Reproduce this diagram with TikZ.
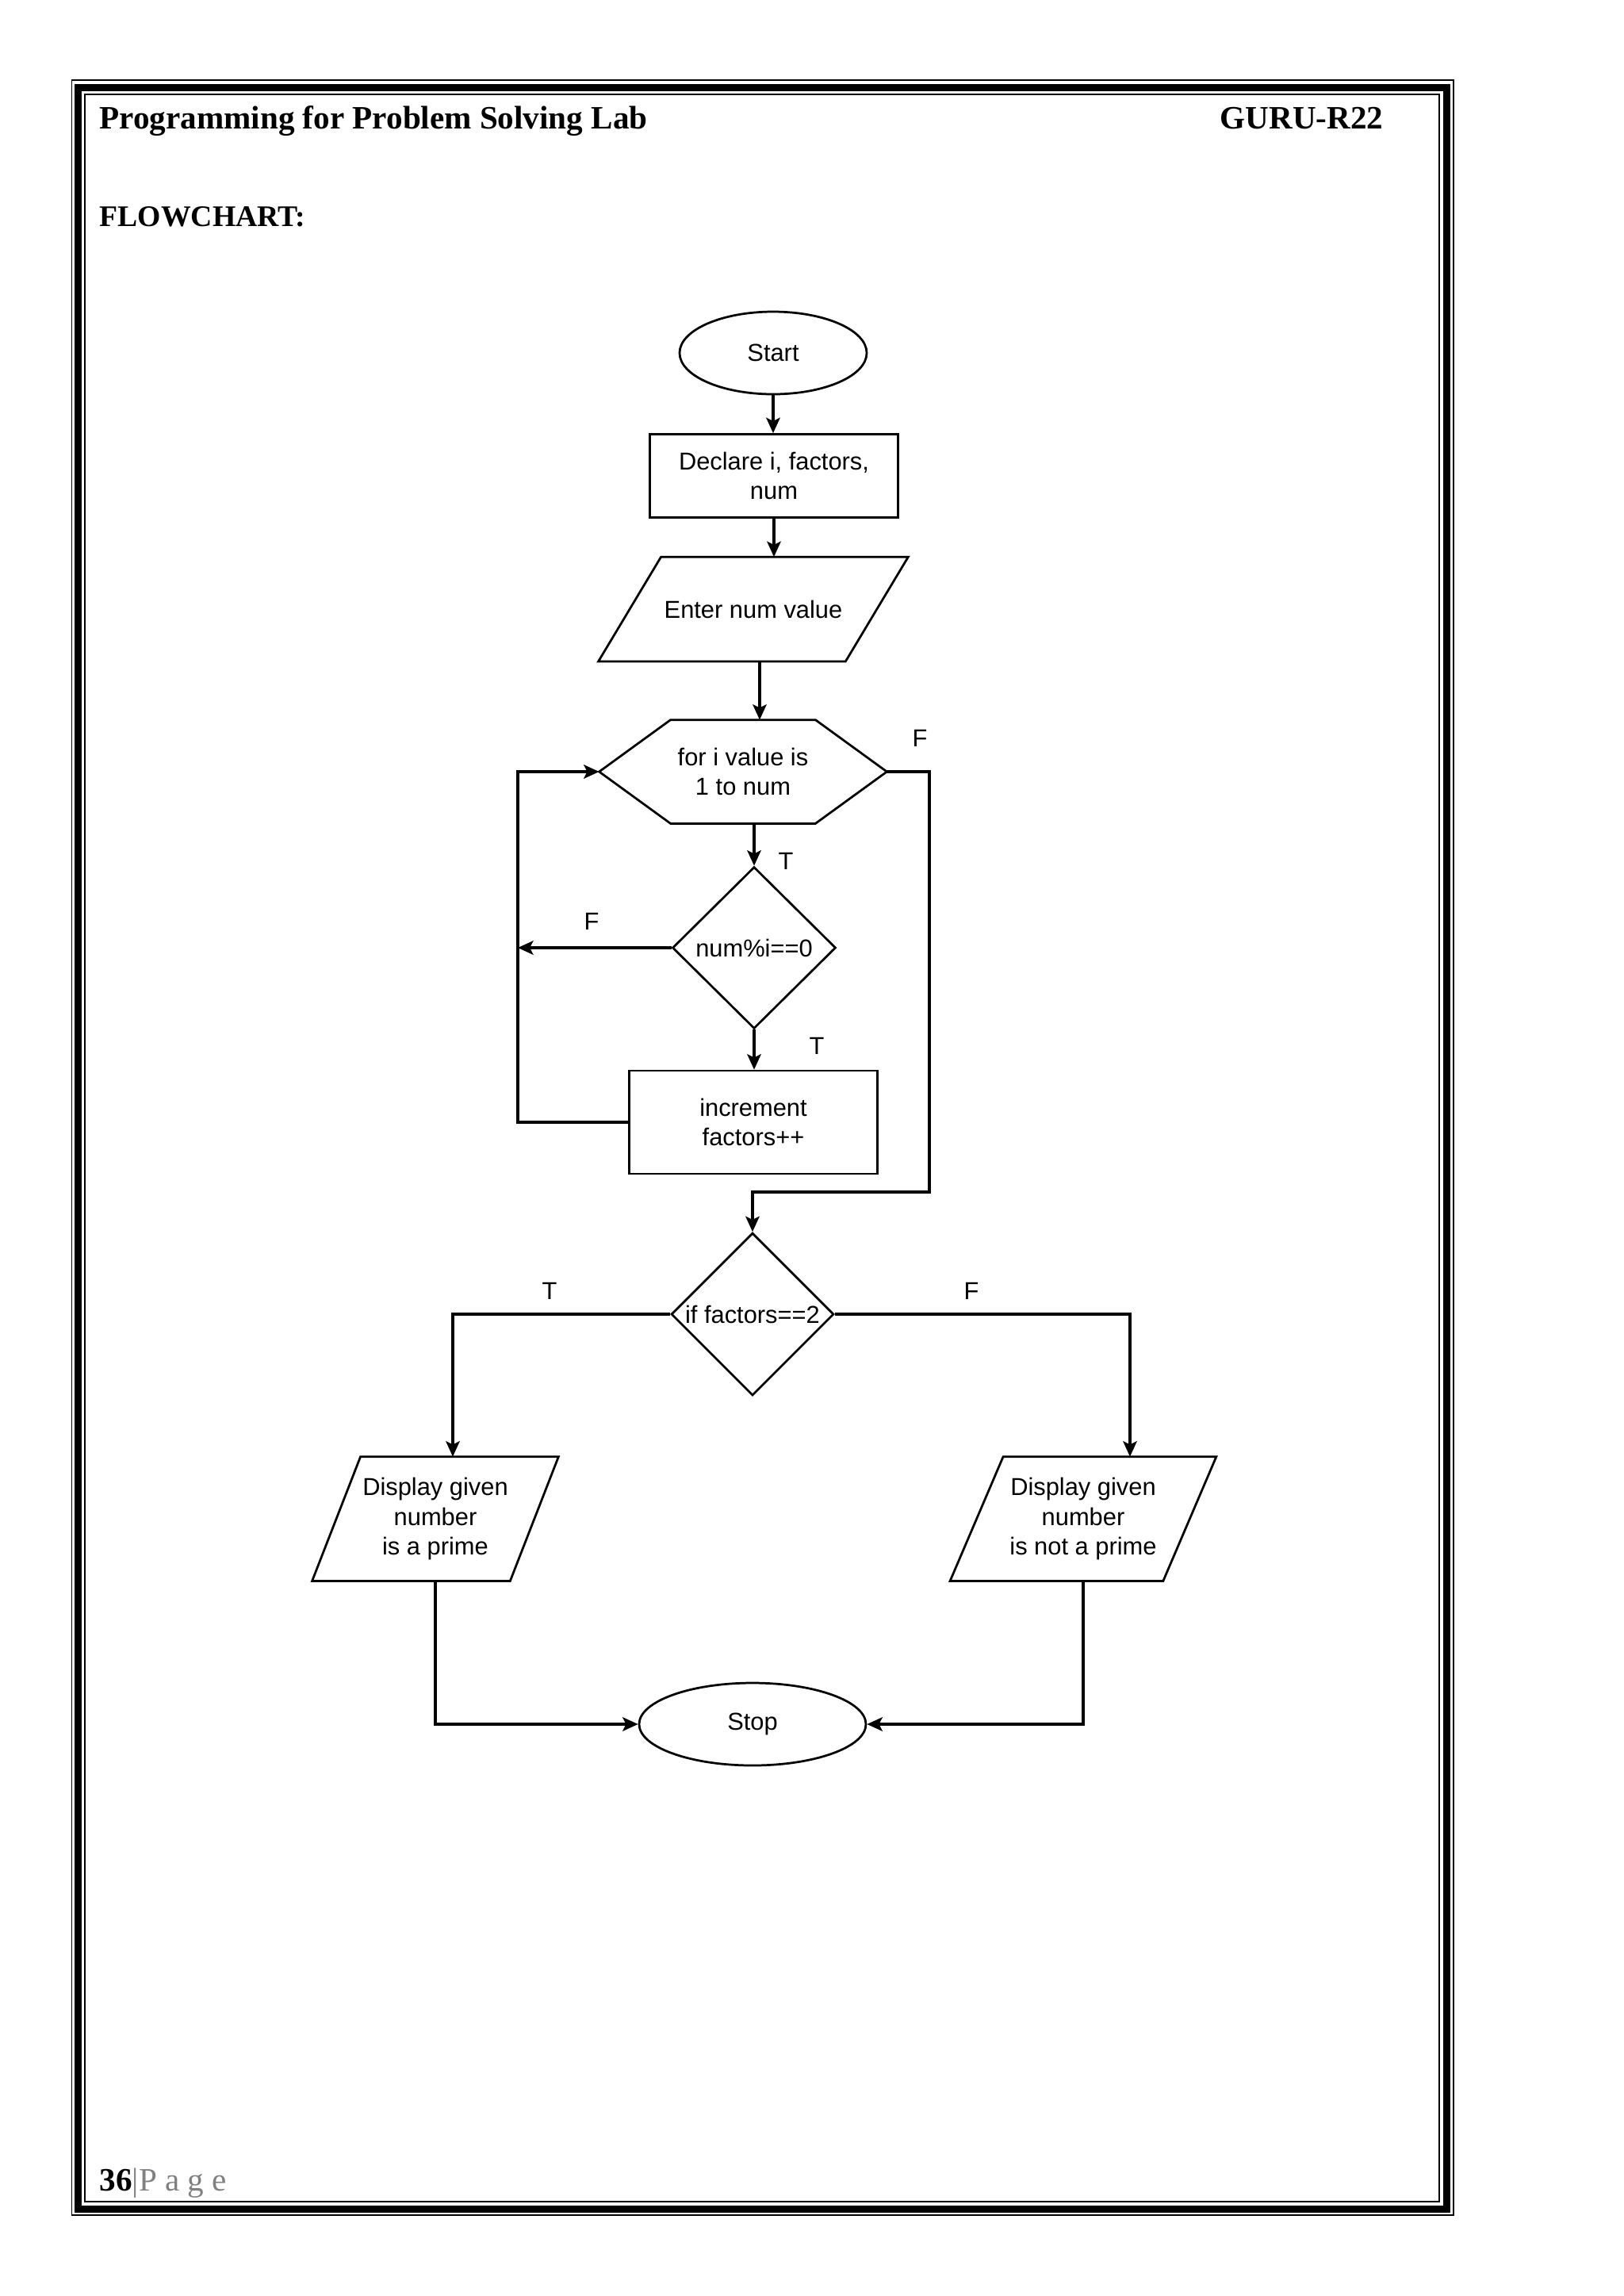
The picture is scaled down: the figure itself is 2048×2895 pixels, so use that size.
\documentclass[tikz,border=0pt]{standalone}
\usepackage{fontspec}
\setmainfont{Liberation Serif}
\newfontfamily\flowfont{Liberation Sans}
\usetikzlibrary{shapes.geometric,arrows.meta}
\newlength{\unitpx}
\setlength{\unitpx}{0.10254mm}
\newcommand\flowsize{\flowfont\fontsize{9pt}{11pt}\selectfont}
\newcommand\headsize{\bfseries\fontsize{12pt}{14pt}\selectfont}
\tikzset{
  base/.style={draw, line width=0.8pt, font=\flowsize, align=center, inner sep=0pt},
  terminal/.style={base, ellipse},
  process/.style={base, rectangle},
  decision/.style={base, diamond},
  hidden/.style={base, draw=none, rectangle},
  outline/.style={line width=0.8pt},
  flow/.style={line width=0.9pt, -{Stealth[length=2mm, width=1.8mm, inset=0.45mm]}},
  branch/.style={font=\flowsize, inner sep=0pt},
  heading/.style={font=\headsize, inner sep=0pt},
  every label/.style={font=\flowsize, inner sep=0pt}
}
\begin{document}
\begin{tikzpicture}[x=0.10254mm, y=-0.10254mm]
  \fill[white] (0,0) rectangle (2048,2895);
  \useasboundingbox (0,0) rectangle (2048,2895);
  % page frame
  \draw[line width=1.5\unitpx] (90.5,101) rectangle (1833,2793);
  \draw[line width=9\unitpx] (98,110) rectangle (1824,2785);
  \draw[line width=1.5\unitpx] (107,119) rectangle (1815,2776);
  % header and footer
  \node[heading, anchor=base west] (title) at (125,162) {Programming for Problem Solving Lab};
  \node[heading, anchor=base east] (code) at (1745,162) {GURU-R22};
  \node[heading, anchor=base west, font=\bfseries\fontsize{11pt}{13pt}\selectfont] (chart) at (125,285) {FLOWCHART:};
  \node[anchor=base west, inner sep=0pt, font=\fontsize{12pt}{14pt}\selectfont] (pageno) at (125,2762)
    {\textbf{36}\textcolor{gray}{|P a g e}};
  % boxes
  \node[terminal, minimum width=236\unitpx, minimum height=104\unitpx] (start) at (975,445) {Start};
  \node[process, minimum width=313\unitpx, minimum height=105\unitpx] (declare) at (976,600) {Declare i, factors,\\num};
  \node[hidden, minimum width=388\unitpx, minimum height=129\unitpx] (enter) at (950,768) {Enter num value};
  \draw[outline] ([xshift=79\unitpx]enter.north west) -- (enter.north east)
    -- ([xshift=-79\unitpx]enter.south east) -- (enter.south west) -- cycle;
  \node[hidden, minimum width=360\unitpx, minimum height=128\unitpx] (loop) at (937,973) {for i value is\\1 to num};
  \draw[outline] ([xshift=90\unitpx]loop.north west) -- ([xshift=-90\unitpx]loop.north east)
    -- (loop.east) -- ([xshift=-90\unitpx]loop.south east) -- ([xshift=90\unitpx]loop.south west)
    -- (loop.west) -- cycle;
  \node[decision, minimum width=206\unitpx, minimum height=204\unitpx, label=center:{num\%i==0}] (test) at (951,1195) {};
  \node[process, minimum width=313\unitpx, minimum height=130\unitpx] (incr) at (950,1415) {increment\\factors++};
  \node[decision, minimum width=205\unitpx, minimum height=205\unitpx, label=center:{if factors==2}] (check) at (949,1657) {};
  \node[hidden, minimum width=308\unitpx, minimum height=154\unitpx] (prime) at (549,1915) {Display given\\number\\is a prime};
  \draw[outline] ([xshift=61\unitpx]prime.north west) -- (prime.north east)
    -- ([xshift=-61\unitpx]prime.south east) -- (prime.south west) -- cycle;
  \node[hidden, minimum width=333\unitpx, minimum height=154\unitpx] (notprime) at (1366,1915) {Display given\\number\\is not a prime};
  \draw[outline] ([xshift=67\unitpx]notprime.north west) -- (notprime.north east)
    -- ([xshift=-67\unitpx]notprime.south east) -- (notprime.south west) -- cycle;
  \node[terminal, minimum width=286\unitpx, minimum height=104\unitpx] (stop) at (949,2174) {Stop};
  \coordinate (back) at (653,973);
  \coordinate (out) at (1172,1503);
  % connectors
  \draw[flow] (start.south) -- (start.south |- declare.north);
  \draw[flow] (declare.south) -- (declare.south |- enter.north);
  \draw[flow] ([xshift=8\unitpx]enter.south) -- ([xshift=8\unitpx]enter.south |- loop.north);
  \draw[flow] (loop.south -| test.north) -- (test.north);
  \draw[flow] (test.south) -- (test.south |- incr.north);
  \draw[flow] (test.west) -- (test.west -| back);
  \draw[flow] (incr.west) -| (back) -- (loop.west);
  \draw[flow] (loop.east) -| (out) -| (check.north);
  \draw[flow] (check.west) -| ([xshift=22\unitpx]prime.north);
  \draw[flow] (check.east) -| ([xshift=59\unitpx]notprime.north);
  \draw[flow] (prime.south) |- (stop.west);
  \draw[flow] (notprime.south) |- (stop.east);
  % branch labels
  \node[branch] (f1) at (1160,931) {F};
  \node[branch] (t1) at (991,1086) {T};
  \node[branch] (f2) at (746,1162) {F};
  \node[branch] (t2) at (1030,1319) {T};
  \node[branch] (t3) at (693,1628) {T};
  \node[branch] (f3) at (1225,1628) {F};
\end{tikzpicture}
\end{document}
